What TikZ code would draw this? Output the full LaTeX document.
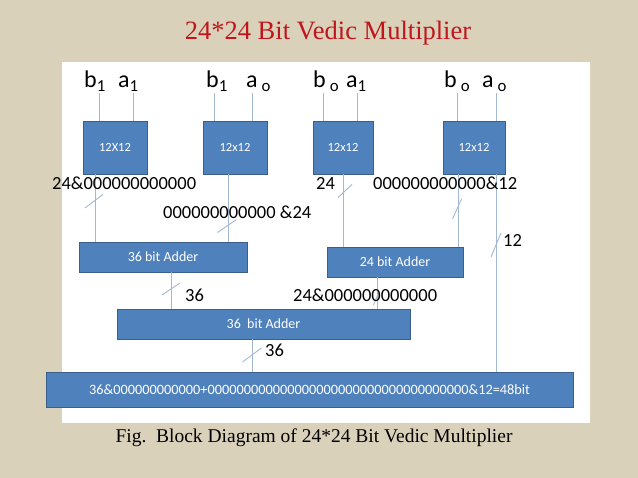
\documentclass[tikz,border=0pt]{standalone}
\usepackage{fontspec}
\setmainfont{Carlito}
\newfontfamily\serifttl{Liberation Serif}
\usetikzlibrary{calc}
\definecolor{bgbeige}{HTML}{DAD1BB}
\definecolor{boxfill}{HTML}{4F81BD}
\definecolor{boxedge}{HTML}{3A5F8C}
\definecolor{wire}{HTML}{A3B9D2}
\definecolor{ttlred}{HTML}{C0161B}
\begin{document}
\begin{tikzpicture}[x=1pt,y=-1pt,
  blk/.style={draw=boxedge,line width=0.9pt,fill=boxfill,text=white,inner sep=0pt,font=\fontsize{12.5}{14}\selectfont},
  wireline/.style={draw=wire,line width=0.9pt},
  tick/.style={draw=wire,line width=0.9pt},
  lbl/.style={inner sep=0pt,font=\fontsize{18.5}{20}\selectfont,text=black},
  inlbl/.style={inner sep=0pt,anchor=base west,font=\fontsize{24}{26}\selectfont,text=black}]
\useasboundingbox (0,0) rectangle (638,478);
\fill[bgbeige] (0,0) rectangle (638,478);
\fill[white] (62,62) rectangle (590,423);
% title and caption
\node[inner sep=0pt,text=ttlred,font=\serifttl\fontsize{26.5}{29}\selectfont] (title) at (328,33) {24*24 Bit Vedic Multiplier};
\node[inner sep=0pt,text=black,font=\serifttl\fontsize{19.5}{22}\selectfont] (caption) at (314,438) {Fig.\ \ Block Diagram of 24*24 Bit Vedic Multiplier};
% multiplier blocks
\node[blk,minimum width=64pt,minimum height=53pt] (m1) at (115,147.5) {12X12};
\node[blk,minimum width=64pt,minimum height=53pt] (m2) at (235,147.5) {12x12};
\node[blk,minimum width=60pt,minimum height=53pt] (m3) at (343,147.5) {12x12};
\node[blk,minimum width=62pt,minimum height=53pt] (m4) at (474,147.5) {12x12};
% adders
\node[blk,minimum width=168pt,minimum height=30pt,font=\fontsize{14}{16}\selectfont] (ad1) at (163,257) {36 bit Adder};
\node[blk,minimum width=136pt,minimum height=30pt,font=\fontsize{14}{16}\selectfont] (ad2) at (395,262) {24 bit Adder};
\node[blk,minimum width=293pt,minimum height=30pt,font=\fontsize{14}{16}\selectfont] (ad3) at (263.5,324) {36\ \ bit Adder};
\node[blk,minimum width=527pt,minimum height=35pt,font=\fontsize{14.3}{16}\selectfont] (fin) at (309.5,389.5) {36\&000000000000+000000000000000000000000000000000000\&12=48bit};
% input labels
\node[inlbl] (b11) at (84,88) {b\textsubscript{1}};
\node[inlbl] (a11) at (118,88) {a\textsubscript{1}};
\node[inlbl] (b12) at (206,88) {b\textsubscript{1}};
\node[inlbl] (a12) at (246,88) {a\,\textsubscript{o}};
\node[inlbl] (b13) at (313,88) {b\,\textsubscript{o}};
\node[inlbl] (a13) at (346,88) {a\textsubscript{1}};
\node[inlbl] (b14) at (444,88) {b\,\textsubscript{o}};
\node[inlbl] (a14) at (482,88) {a\,\textsubscript{o}};
% input wires
\foreach \m/\xa/\xb in {m1/99/133, m2/214/252, m3/323/357, m4/457/496}{
  \draw[wireline] (\m.north -| \xa,0) -- ++(0,-28);
  \draw[wireline] (\m.north -| \xb,0) -- ++(0,-28);
}
% tap coordinates
\coordinate (t1) at (95,0);
\coordinate (t2) at (228,0);
\coordinate (t3) at (343,0);
\coordinate (t4) at (458,0);
\coordinate (t5) at (496,0);
\coordinate (t6) at (171,0);
\coordinate (t7) at (377,0);
\coordinate (t8) at (252,0);
% connectors
\draw[wireline] (m1.south -| t1) -- (ad1.north -| t1);
\draw[wireline] (m2.south -| t2) -- (ad1.north -| t2);
\draw[wireline] (m3.south -| t3) -- (ad2.north -| t3);
\draw[wireline] (m4.south -| t4) -- (ad2.north -| t4);
\draw[wireline] (m4.south -| t5) -- (fin.north -| t5);
\draw[wireline] (ad1.south -| t6) -- (ad3.north -| t6);
\draw[wireline] (ad2.south -| t7) -- (ad3.north -| t7);
\draw[wireline] (ad3.south -| t8) -- (fin.north -| t8);
% bus slashes
\draw[tick] (94,201) +(-9,7) -- +(9,-6.5);
\draw[tick] (227,226) +(-9.5,6.5) -- +(9.5,-6.5);
\draw[tick] (345,191) +(-7,6.5) -- +(7,-6.5);
\draw[tick] (457,209) +(-4.5,10) -- +(4.5,-10);
\draw[tick] (496,245) +(-5,12) -- +(5,-12);
\draw[tick] (171,289) +(-9,6) -- +(9,-6);
\draw[tick] (376,299) +(-2.5,6) -- +(2.5,-6);
\draw[tick] (252,355) +(-9.5,7) -- +(9.5,-7);
% bus labels
\node[lbl,anchor=west] (l1) at (52,183) {24\&000000000000};
\node[lbl,anchor=west] (l2) at (163,212) {000000000000 \&24};
\node[lbl,anchor=west] (l3) at (316,183) {24};
\node[lbl,anchor=west] (l4) at (373,183) {000000000000\&12};
\node[lbl,anchor=west] (l5) at (503,240) {12};
\node[lbl,anchor=west] (l6) at (185,295) {36};
\node[lbl,anchor=west] (l7) at (293,295) {24\&000000000000};
\node[lbl,anchor=west] (l8) at (265,350) {36};
\end{tikzpicture}
\end{document}
